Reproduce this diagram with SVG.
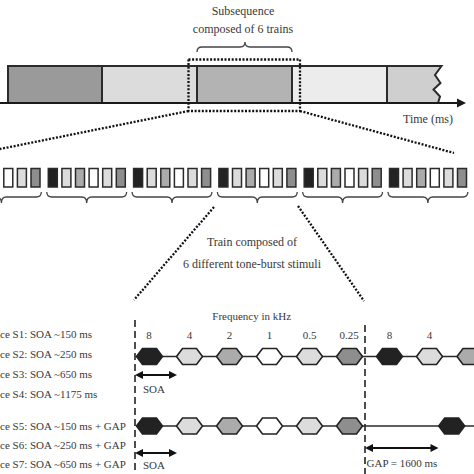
<svg xmlns="http://www.w3.org/2000/svg" xmlns:xlink="http://www.w3.org/1999/xlink" width="474" height="474" viewBox="0 0 474 474">
<style>
text{font-family:"Liberation Serif","Times New Roman",serif;fill:#383838}
.t12{font-size:12px}
.t11{font-size:11px}
.seg{stroke:#2b2b2b;stroke-width:2}
.dot{fill:none;stroke:#111;stroke-width:2.3;stroke-dasharray:2 1.6}
.dash{fill:none;stroke:#222;stroke-width:1.6;stroke-dasharray:7 4}
.br{fill:none;stroke:#444;stroke-width:1.3}
.r{stroke:#2a2a2a;stroke-width:1.5}
.hx{stroke:#222;stroke-width:1.6}
.ln{stroke:#2a2a2a;stroke-width:1.6}
.ar{stroke:#111;stroke-width:2}
.k{fill:#222}.l{fill:#dcdcdc}.m{fill:#ababab}.w{fill:#fff}.d{fill:#8e8e8e}
</style>
<defs>
<g id="train">
<rect class="r k" x="0" y="168.5" width="9" height="18.5"/>
<rect class="r l" x="13.6" y="168.5" width="9" height="18.5"/>
<rect class="r m" x="27.2" y="168.5" width="9" height="18.5"/>
<rect class="r w" x="40.8" y="168.5" width="9" height="18.5"/>
<rect class="r l" x="54.4" y="168.5" width="9" height="18.5"/>
<rect class="r d" x="68" y="168.5" width="9" height="18.5"/>
<path class="br" d="M-1.5,192 Q-1.5,197 3.5,197 L33.4,197 Q38.4,197 38.4,203 Q38.4,197 43.4,197 L73.3,197 Q78.3,197 78.3,192"/>
</g>
<polygon id="hex" points="-13,0 -7,-8 7,-8 13,0 7,8 -7,8"/>
</defs>

<g id="title">
<text class="t12" x="243" y="15" text-anchor="middle">Subsequence</text>
<text class="t12" x="243" y="33" text-anchor="middle">composed of 6 trains</text>
<path class="br" d="M197,52 Q197,47 202,47 L240,47 Q245,47 245,42 Q245,47 250,47 L287,47 Q292,47 292,52"/>
</g>

<g id="sequence-bar">
<rect class="seg" x="8" y="66" width="94" height="37" fill="#9a9a9a"/>
<rect class="seg" x="102" y="66" width="95" height="37" fill="#dcdcdc"/>
<rect class="seg" x="197" y="66" width="95" height="37" fill="#b3b3b3"/>
<rect class="seg" x="292" y="66" width="95" height="37" fill="#ececec"/>
<path class="seg" d="M387,66 L441.5,66 L435,75 L440.5,83 L433.5,89.5 L440,96.5 L438,103 L387,103 Z" fill="#cfcfcf"/>
</g>

<g id="time-axis">
<line x1="0" y1="103" x2="459" y2="103" stroke="#1a1a1a" stroke-width="2"/>
<polygon points="457,98.5 466,103 457,107.5" fill="#1a1a1a"/>
<text class="t12" x="403" y="123">Time (ms)</text>
</g>

<g id="connectors">
<rect class="dot" x="188.5" y="59.5" width="111.5" height="51.5"/>
<line class="dot" x1="188.5" y1="111" x2="0" y2="149"/>
<line class="dot" x1="300" y1="111" x2="454" y2="153"/>
<line class="dot" x1="214" y1="207" x2="134" y2="300"/>
<line class="dot" x1="298" y1="206" x2="364" y2="301"/>
</g>

<g id="trains">
<use xlink:href="#train" href="#train" x="-37"/>
<use xlink:href="#train" href="#train" x="48.3"/>
<use xlink:href="#train" href="#train" x="133.6"/>
<use xlink:href="#train" href="#train" x="218.9"/>
<use xlink:href="#train" href="#train" x="304.2"/>
<use xlink:href="#train" href="#train" x="389.5"/>
</g>

<g id="train-label">
<text class="t12" x="252" y="246" text-anchor="middle">Train composed of</text>
<text class="t12" x="252" y="268" text-anchor="middle">6 different tone-burst stimuli</text>
</g>

<g id="sequence-labels">
<text class="t11" x="0" y="338">ce S1: SOA ~150 ms</text>
<text class="t11" x="0" y="358">ce S2: SOA ~250 ms</text>
<text class="t11" x="0" y="378">ce S3: SOA ~650 ms</text>
<text class="t11" x="0" y="398">ce S4: SOA ~1175 ms</text>
<text class="t11" x="0" y="430">ce S5: SOA ~150 ms + GAP</text>
<text class="t11" x="0" y="449">ce S6: SOA ~250 ms + GAP</text>
<text class="t11" x="0" y="468">ce S7: SOA ~650 ms + GAP</text>
</g>

<g id="frequency-labels">
<text class="t11" x="251.7" y="320" text-anchor="middle">Frequency in kHz</text>
<g text-anchor="middle" class="t11">
<text x="149" y="339">8</text>
<text x="189.5" y="339">4</text>
<text x="229.5" y="339">2</text>
<text x="269.5" y="339">1</text>
<text x="309.5" y="339">0.5</text>
<text x="349" y="339">0.25</text>
<text x="389.5" y="339">8</text>
<text x="429.5" y="339">4</text>
</g>
</g>

<g id="dashed-lines">
<line class="dash" x1="135" y1="320" x2="135" y2="474"/>
<line class="dash" x1="365" y1="325" x2="365" y2="474"/>
</g>

<g id="row-continuous">
<line class="ln" x1="136" y1="356.5" x2="474" y2="356.5"/>
<use href="#hex" xlink:href="#hex" class="hx k" x="149.5" y="356.5"/>
<use href="#hex" xlink:href="#hex" class="hx l" x="189.5" y="356.5"/>
<use href="#hex" xlink:href="#hex" class="hx m" x="229.5" y="356.5"/>
<use href="#hex" xlink:href="#hex" class="hx w" x="269.5" y="356.5"/>
<use href="#hex" xlink:href="#hex" class="hx l" x="309.5" y="356.5"/>
<use href="#hex" xlink:href="#hex" class="hx d" x="349.5" y="356.5"/>
<use href="#hex" xlink:href="#hex" class="hx k" x="389.5" y="356.5"/>
<use href="#hex" xlink:href="#hex" class="hx l" x="429.5" y="356.5"/>
<use href="#hex" xlink:href="#hex" class="hx m" x="470" y="356.5"/>
</g>

<g id="row-gap">
<line class="ln" x1="136" y1="426" x2="474" y2="426"/>
<use href="#hex" xlink:href="#hex" class="hx k" x="149.5" y="426"/>
<use href="#hex" xlink:href="#hex" class="hx l" x="189.5" y="426"/>
<use href="#hex" xlink:href="#hex" class="hx m" x="229.5" y="426"/>
<use href="#hex" xlink:href="#hex" class="hx w" x="269.5" y="426"/>
<use href="#hex" xlink:href="#hex" class="hx l" x="309.5" y="426"/>
<use href="#hex" xlink:href="#hex" class="hx d" x="349.5" y="426"/>
<use href="#hex" xlink:href="#hex" class="hx k" x="451.7" y="426"/>
</g>

<g id="soa-arrow-1">
<line class="ar" x1="141" y1="375" x2="171" y2="375"/>
<polygon points="135,375 143,371 143,379" fill="#111"/>
<polygon points="177,375 169,371 169,379" fill="#111"/>
<text class="t11" x="143" y="393">SOA</text>
</g>

<g id="soa-arrow-2">
<line class="ar" x1="141" y1="453" x2="171" y2="453"/>
<polygon points="135,453 143,449 143,457" fill="#111"/>
<polygon points="177,453 169,449 169,457" fill="#111"/>
<text class="t11" x="143" y="469">SOA</text>
</g>

<g id="gap-arrow">
<line class="ar" x1="371" y1="448" x2="432" y2="448"/>
<polygon points="365,448 373,444 373,452" fill="#111"/>
<polygon points="438.5,448 430.5,444 430.5,452" fill="#111"/>
<text class="t11" x="366.5" y="467">GAP = 1600 ms</text>
</g>
</svg>
